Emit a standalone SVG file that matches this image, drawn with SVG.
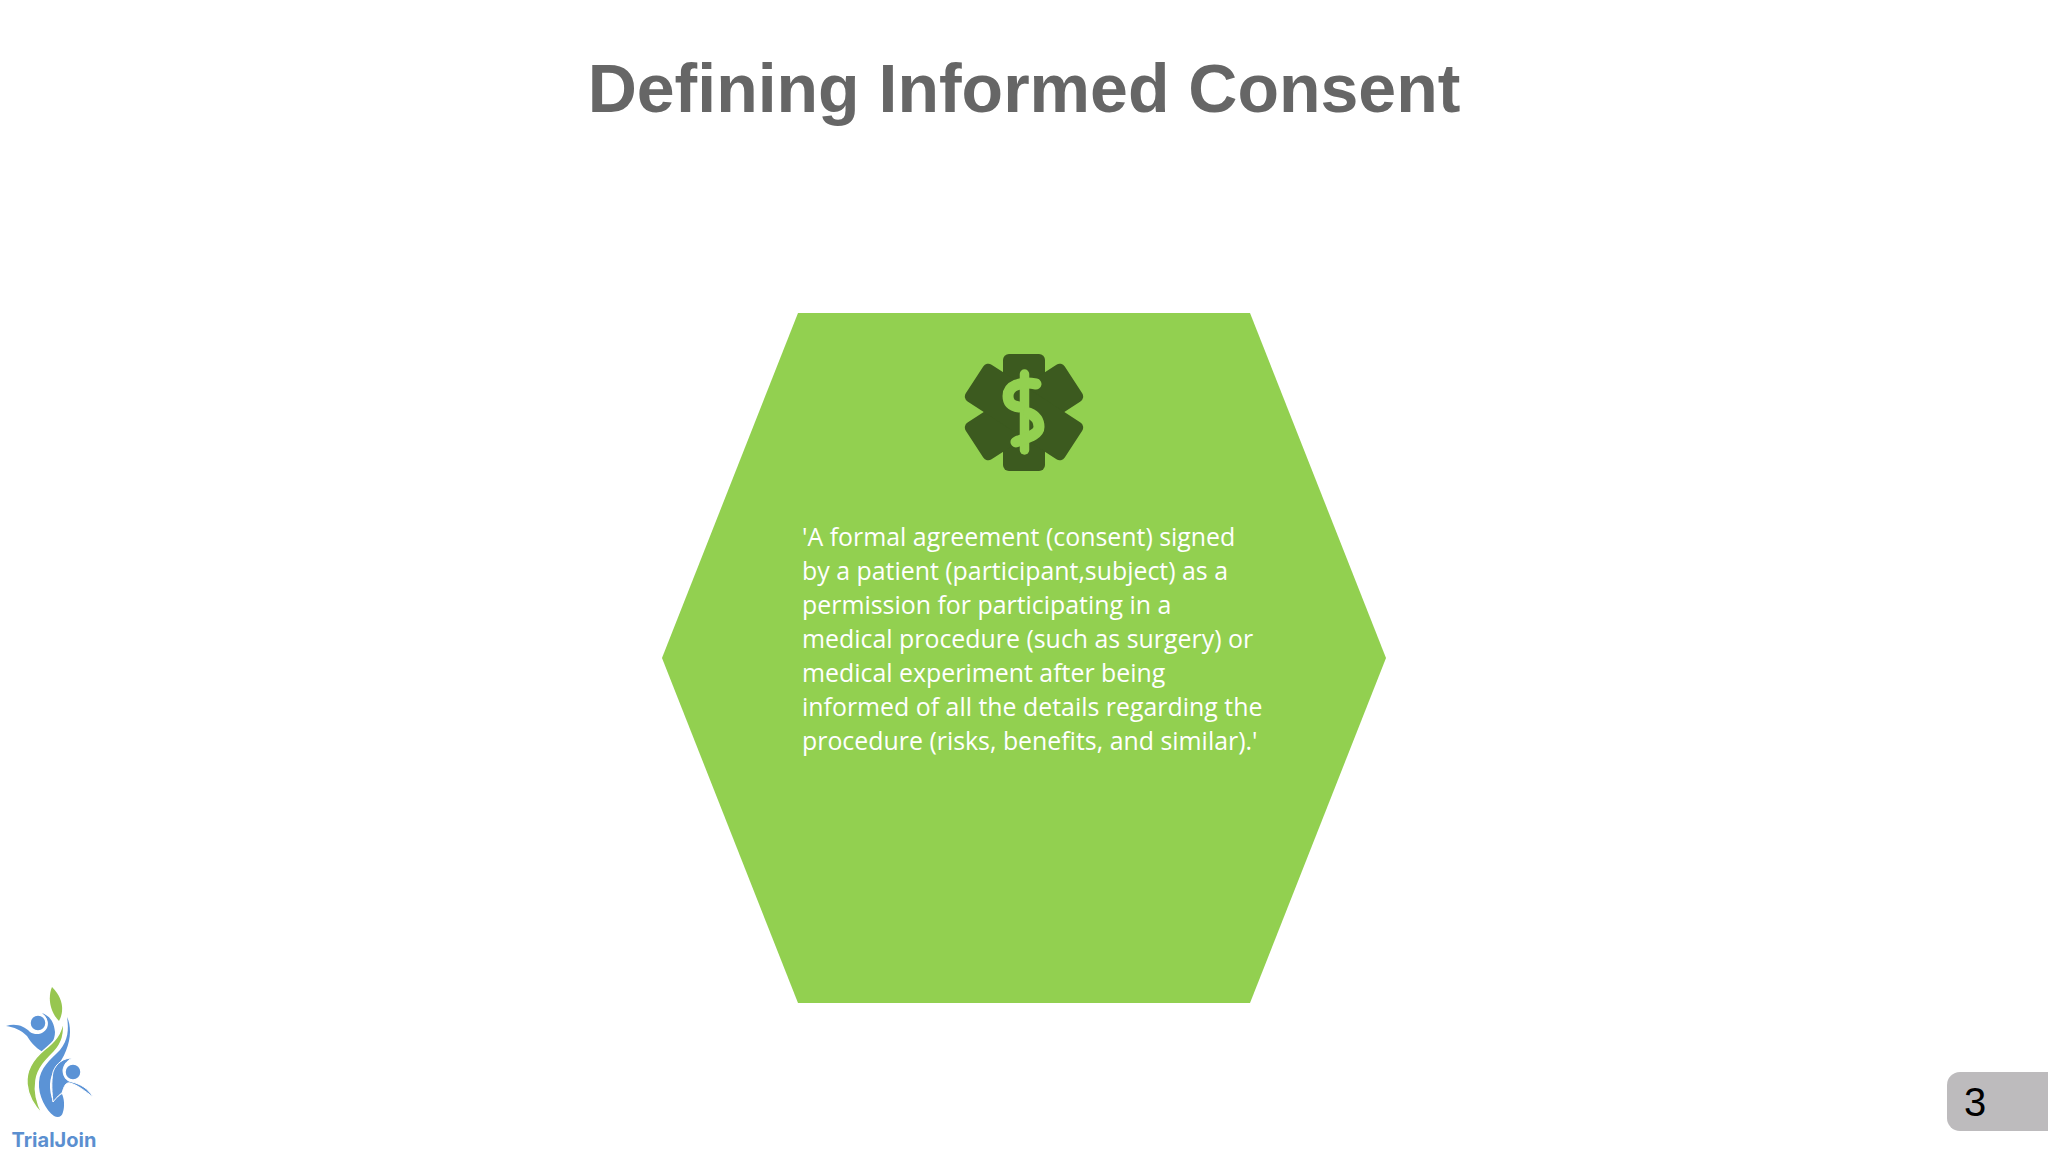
<svg xmlns="http://www.w3.org/2000/svg" width="2048" height="1152" viewBox="0 0 2048 1152">
<style>
.title{font:bold 68px "Liberation Sans",Arial,sans-serif;fill:#666666;text-anchor:middle}
.body{font:24.900px "Open Sans","Noto Sans",sans-serif;fill:#ffffff}
.blue{fill:#5b93d6}.green{fill:#97c650}
.head{fill:#5b93d6;stroke:#ffffff;stroke-width:2.500}
.arm{fill:#3c5a1f}
.snake{stroke:#92d050;fill:none;stroke-linecap:round}
</style>
<rect width="2048" height="1152" fill="#ffffff"/>
<text class="title" x="1024" y="112">Defining Informed Consent</text>
<g id="hexagon">
<polygon points="798,313 1250,313 1386,658 1250,1003 798,1003 662,658" fill="#92d050"/>
<g id="icon">
<rect class="arm" x="1003" y="354" width="42" height="117" rx="6"/>
<rect class="arm" x="1002" y="353" width="44" height="118" rx="6" transform="rotate(57 1024 412)"/>
<rect class="arm" x="1002" y="353" width="44" height="118" rx="6" transform="rotate(-57 1024 412)"/>
<path class="snake" d="M1024.500 374V450" stroke-width="9.500"/>
<path class="snake" d="M1036 384C1020 381 1008 386 1008 396C1008 403 1012 406 1019 407" stroke-width="11"/>
<path class="snake" d="M1029 413C1036 416 1039 421 1039 427C1039 435 1026 438 1016 442" stroke-width="11"/>
</g>
<text class="body"><tspan x="802" y="546">'A formal agreement (consent) signed</tspan><tspan x="802" y="580">by a patient (participant,subject) as a</tspan><tspan x="802" y="614">permission for participating in a</tspan><tspan x="802" y="648">medical procedure (such as surgery) or</tspan><tspan x="802" y="682">medical experiment after being</tspan><tspan x="802" y="716">informed of all the details regarding the</tspan><tspan x="802" y="750">procedure (risks, benefits, and similar).'</tspan></text>
</g>
<g id="logo">
<path class="green" d="M52 987C48 996 49 1011 59 1021C64 1012 64 999 52 987Z"/>
<path class="blue" d="M6 1026C16 1023 24 1026 30 1032C36 1036 44 1034 47 1028C49 1023 47 1017 42 1013C50 1016 54 1022 55 1032C55 1040 50 1048 45 1053C38 1050 31 1043 27 1036C21 1030 14 1027 6 1026Z"/>
<circle class="head" cx="38" cy="1023" r="8.500"/>
<path class="blue" d="M67 1017C69 1030 68 1040 60 1050C50 1060 40 1068 39 1082C38 1096 46 1110 54 1116C58 1118 62 1117 63 1112C65 1106 64 1098 62 1094C58 1096 55 1099 53 1102C49 1090 48 1078 56 1068C64 1058 70 1044 70 1032C70 1026 69 1021 67 1017Z"/>
<path class="green" stroke="#ffffff" stroke-width="1.500" d="M63 1020C62 1034 54 1042 44 1050C32 1060 26 1072 27 1084C28 1096 34 1106 43 1115C37 1104 34 1092 36 1080C38 1068 46 1060 54 1052C62 1044 65 1032 63 1020Z"/>
<path class="blue" stroke="#ffffff" stroke-width="1" d="M72 1058C64 1058 56 1063 53 1072C51 1082 52 1094 53 1102C57 1097 60 1094 62 1093C64 1086 66 1082 70 1083C78 1085 86 1092 93 1097C88 1088 80 1084 72 1082C66 1081 63 1076 63 1070C64 1064 67 1061 72 1058Z"/>
<circle class="head" cx="73" cy="1072" r="8.500"/>
<text x="54" y="1147" font-family="Inter,'Open Sans',sans-serif" font-weight="700" font-size="20" fill="#5b8fd0" text-anchor="middle">TrialJoin</text>
</g>
<g id="page-badge">
<rect x="1947" y="1072" width="120" height="59" rx="13" fill="#bdbbbd"/>
<text x="1975" y="1116" font-family="'Liberation Sans',Arial,sans-serif" font-size="40" fill="#000000" text-anchor="middle">3</text>
</g>
</svg>
